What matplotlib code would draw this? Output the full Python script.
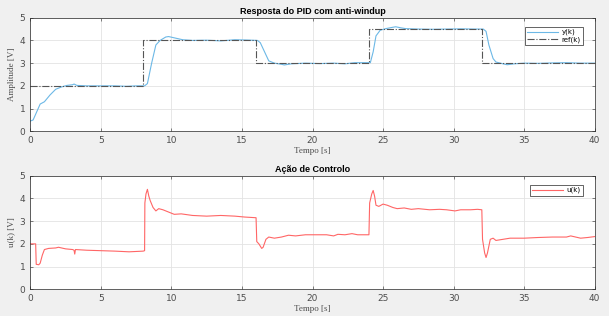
import numpy as np
import matplotlib
matplotlib.use('Agg')
import matplotlib.pyplot as plt

# reference steps
ref_t = [0, 8, 16, 24, 32, 40]
ref_v = [2, 4, 3, 4.5, 3, 3]

# y(k)
y_t = [0, 0.2, 0.45, 0.7, 1.0, 1.4, 1.8, 2.2, 2.6, 3.0, 3.1, 3.3, 4.0, 5.0, 6.0, 6.8, 7.5, 8.1,
       8.3, 8.6, 8.9, 9.2, 9.6, 9.8, 10.3, 10.8, 11.5, 12.5, 13.5, 14.5, 15.2, 16.1,
       16.3, 16.6, 16.9, 17.3, 17.8, 18.0, 18.5, 19.5, 20.5, 21.5, 22.3, 23.0, 24.1,
       24.3, 24.5, 24.8, 25.2, 25.7, 25.9, 26.3, 26.6, 27.5, 28.5, 29.5, 30.5, 31.5, 32.1,
       32.3, 32.5, 32.8, 33.0, 33.5, 33.8, 34.3, 35.0, 36.0, 37.0, 38.0, 39.0, 40.0]
y_v = [0.45, 0.5, 0.85, 1.2, 1.3, 1.6, 1.85, 1.95, 2.02, 2.05, 2.08, 2.02, 2.0, 2.0, 2.0, 1.98, 2.0, 2.0,
       2.1, 3.0, 3.8, 4.0, 4.15, 4.17, 4.1, 4.03, 4.0, 4.01, 3.98, 4.03, 4.02, 4.0,
       3.9, 3.5, 3.1, 3.0, 2.95, 2.92, 2.97, 3.0, 2.98, 3.0, 2.97, 3.02, 3.02,
       3.5, 4.2, 4.45, 4.52, 4.58, 4.6, 4.55, 4.52, 4.5, 4.49, 4.5, 4.51, 4.5, 4.5,
       4.4, 3.8, 3.2, 3.05, 2.97, 2.93, 2.97, 3.0, 2.99, 3.01, 3.02, 3.0, 3.0]

# u(k)
u_t = [0, 0.38, 0.42, 0.6, 0.7, 0.85, 1.0, 1.3, 1.8, 2.0, 2.5, 3.0, 3.1, 3.15, 3.2, 4.0, 5.0, 6.0, 7.0, 8.0, 8.1,
       8.12, 8.2, 8.3, 8.4, 8.5, 8.7, 8.9, 9.1, 9.4, 9.8, 10.2, 10.7, 11.5, 12.5, 13.5, 14.5, 15.2, 16.0,
       16.05, 16.2, 16.4, 16.5, 16.7, 16.9, 17.3, 17.8, 18.3, 18.8, 19.5, 20.0, 21.0, 21.5, 21.8, 22.3, 22.8, 23.2, 24.0,
       24.05, 24.2, 24.3, 24.4, 24.5, 24.7, 25.0, 25.3, 25.7, 26.0, 26.5, 27.0, 27.5, 28.3, 29.0, 29.5, 30.1, 30.5, 31.2, 31.7, 32.0,
       32.05, 32.2, 32.3, 32.4, 32.6, 32.8, 33.0, 33.5, 34.0, 35.0, 36.0, 37.0, 38.0, 38.3, 39.0, 39.5, 40.0]
u_v = [2.0, 2.0, 1.1, 1.08, 1.15, 1.5, 1.75, 1.8, 1.82, 1.85, 1.78, 1.75, 1.72, 1.55, 1.75, 1.72, 1.7, 1.68, 1.65, 1.68, 1.7,
       3.8, 4.2, 4.4, 4.1, 3.9, 3.6, 3.45, 3.55, 3.5, 3.4, 3.3, 3.32, 3.25, 3.22, 3.25, 3.22, 3.18, 3.15,
       2.1, 2.0, 1.8, 1.85, 2.2, 2.3, 2.25, 2.3, 2.38, 2.35, 2.4, 2.4, 2.4, 2.35, 2.42, 2.4, 2.45, 2.4, 2.4,
       3.8, 4.2, 4.35, 4.1, 3.7, 3.65, 3.75, 3.7, 3.6, 3.55, 3.58, 3.52, 3.55, 3.5, 3.52, 3.5, 3.45, 3.5, 3.5, 3.52, 3.5,
       2.2, 1.6, 1.4, 1.6, 2.2, 2.25, 2.15, 2.2, 2.25, 2.25, 2.28, 2.3, 2.3, 2.35, 2.25, 2.28, 2.32]

bg = '#f0f0f0'
fig = plt.figure(figsize=(6.09, 3.16), dpi=100, facecolor=bg)
ax1 = fig.add_axes([30.3/609, 1 - 131.3/316, 564.4/609, 113.6/316])
ax2 = fig.add_axes([30.3/609, 1 - 289.3/316, 564.4/609, 113.6/316])

ax1.plot(y_t, y_v, color='#6cb8e6', lw=0.8, label='y(k)')
ax1.step(ref_t, ref_v, where='post', color='#555555', lw=0.8, ls='-.', label='ref(k)')
ax2.plot(u_t, u_v, color='#ff6666', lw=0.8, label='u(k)')

for ax, title, ylab in [(ax1, 'Resposta do PID com anti-windup', 'Amplitude [V]'),
                        (ax2, 'Ação de Controlo', 'u(k) [V]')]:
    ax.set_xlim(0, 40)
    ax.set_ylim(0, 5)
    ax.set_xticks(range(0, 41, 5))
    ax.set_yticks(range(0, 6))
    ax.grid(True, color='#e3e3e3', lw=0.6)
    ax.set_axisbelow(True)
    ax.tick_params(labelsize=6.5, colors='#4d4d4d', length=2.5, width=0.5, direction='in', top=True, right=True)
    for s in ax.spines.values():
        s.set_color('#262626')
        s.set_linewidth(0.5)
    ax.set_title(title, fontsize=6.5, fontweight='bold', family='Liberation Sans', pad=3)
    ax.set_xlabel('Tempo [s]', fontsize=6.5, family='Liberation Serif', color='#4d4d4d', labelpad=1)
    ax.set_ylabel(ylab, fontsize=6.5, family='Liberation Serif', color='#4d4d4d', labelpad=3)
    leg = ax.legend(loc='upper right', fontsize=5, fancybox=False, framealpha=1,
                    handlelength=4.5, borderpad=0.3, labelspacing=0.2, handletextpad=0.5,
                    bbox_to_anchor=(0.985, 0.95))
    leg.get_frame().set_edgecolor('#262626')
    leg.get_frame().set_linewidth(0.5)

fig.savefig('out.png', dpi=100, facecolor=bg)
